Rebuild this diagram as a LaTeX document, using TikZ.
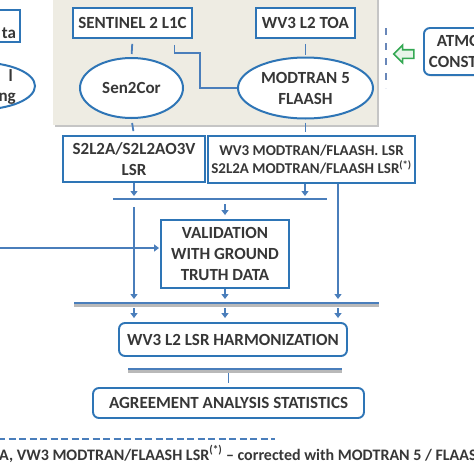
\documentclass[tikz,border=0pt]{standalone}
\usepackage{fontspec}
\setmainfont{Carlito}
\usetikzlibrary{arrows.meta,shapes.geometric,shapes.arrows,shadows}
\definecolor{boxblue}{RGB}{46,117,182}
\definecolor{linkblue}{RGB}{74,126,187}
\definecolor{panelgrey}{RGB}{238,236,227}
\definecolor{inkgrey}{RGB}{55,55,55}
\definecolor{arrgreen}{RGB}{52,168,83}
\definecolor{dashblue}{RGB}{105,135,185}
\begin{document}
\begin{tikzpicture}[x=1pt,y=-1pt,
  every node/.style={font=\fontsize{17}{21}\selectfont\bfseries, text=inkgrey},
  sqbox/.style={draw=boxblue, line width=1.9pt, fill=white, align=center, inner sep=0pt},
  rbox/.style={sqbox, rounded corners=6pt},
  ellbox/.style={ellipse, draw=boxblue, line width=2pt, fill=white, align=center, inner sep=0pt},
  link/.style={draw=linkblue, line width=1.8pt},
  arr/.style={link, -{Triangle[length=5pt,width=7pt]}},
  bar/.style={draw=linkblue, line width=2.4pt},
  barshadow/.style={draw=gray!55, line width=2.4pt}]
  \useasboundingbox (0,0) rectangle (474,474);
  \clip (0,0) rectangle (474,474);
  \fill[white] (0,0) rectangle (474,474);
  \fill[panelgrey, drop shadow={shadow xshift=1.5pt, shadow yshift=-2pt, opacity=0.45}] (53,-10) rectangle (377,125);

  \node[sqbox, anchor=east, minimum width=90pt, text height=28pt, text depth=4pt, inner xsep=4pt, text width=82pt, align=right] (gtdata) at (21,26) {ta};
  \draw[boxblue, line width=2pt, fill=white] (-20,86) ellipse (55 and 23.5);
  \node[anchor=base east, inner sep=0pt] (procl) at (13,81) {l};
  \node[anchor=base east, inner sep=0pt] (procng) at (16,101) {ng};

  \node[sqbox, minimum width=119pt, minimum height=30pt] (sent) at (132.5,23) {SENTINEL 2 L1C};
  \node[sqbox, minimum width=99pt, minimum height=30pt] (wvtoa) at (305.5,23) {WV3 L2 TOA};
  \node[ellbox, minimum width=103pt, minimum height=60pt] (sencor) at (131.5,88) {Sen2Cor};
  \node[ellbox, minimum width=135pt, minimum height=61pt] (modtran) at (305.5,88) {MODTRAN 5\\FLAASH};
  \draw[link, shorten <=5pt, shorten >=3pt] (sent.south) -- (sencor.north);
  \draw[link, shorten <=5pt, shorten >=2pt] (wvtoa.south) -- (modtran.north);
  \coordinate (kink) at (200,53);
  \draw[link, shorten <=6pt] ([xshift=42pt]sent.south) |- (kink) |- (modtran.west);

  \coordinate (dtop) at (386,28);
  \coordinate (dbot) at (386,88);
  \draw[draw=dashblue, line width=2.6pt, dash pattern=on 7pt off 8pt] (dtop) -- (dbot);
  \node[single arrow, draw=arrgreen, fill=arrgreen!12, line width=1.6pt, shape border rotate=180,
    minimum height=20pt, inner sep=3.5pt, single arrow head extend=4.5pt] (garr) at (406,54) {};
  \node[rbox, anchor=west, minimum width=120pt, minimum height=47pt, align=left, text width=110pt, inner xsep=4pt,
    drop shadow={opacity=0.25, shadow xshift=1pt, shadow yshift=-1.5pt}] (atmo) at (423,51.5) {\hspace*{8pt}ATMO\\CONST};

  \node[sqbox, minimum width=142pt, minimum height=46pt] (s2lsr) at (134,159) {S2L2A/S2L2AO3V\\LSR};
  \node[sqbox, minimum width=207pt, minimum height=47pt, font=\fontsize{15}{18}\selectfont\bfseries] (mflsr) at (311.5,159.5)
    {WV3 MODTRAN/FLAASH. LSR\\S2L2A MODTRAN/FLAASH LSR\textsuperscript{(*)}};
  \draw[link, shorten <=4pt, shorten >=4pt] (sencor.south) -- (s2lsr.north);
  \draw[link, shorten <=3pt, shorten >=3pt] (modtran.south) -- (modtran.south |- mflsr.north);

  \coordinate (b1w) at (113,199);
  \coordinate (b1e) at (327,199);
  \draw[bar] (b1w) -- (b1e);
  \draw[arr, shorten >=3pt] (s2lsr.south) -- (s2lsr.south |- b1w);
  \draw[arr, shorten >=3pt] ([xshift=-6.5pt]mflsr.south) -- ([xshift=-6.5pt]mflsr.south |- b1w);

  \node[sqbox, minimum width=128pt, minimum height=68pt] (valid) at (225,254) {VALIDATION\\WITH GROUND\\TRUTH DATA};
  \coordinate (gtin) at (-5,248);
  \draw[arr, shorten >=1pt] (gtin) -- (valid.west |- gtin);
  \draw[arr, shorten <=5pt, shorten >=4pt] (valid.north |- b1w) -- (valid.north);

  \coordinate (b2w) at (74,303);
  \coordinate (b2e) at (379,303);
  \draw[barshadow] ([yshift=-2.5pt]b2w) -- ([yshift=-2.5pt]b2e);
  \draw[bar] (b2w) -- (b2e);
  \draw[arr, shorten <=8pt, shorten >=4pt] (s2lsr.south |- b1w) -- (s2lsr.south |- b2w);
  \draw[arr, shorten >=4pt] (valid.south) -- (valid.south |- b2w);
  \draw[arr, shorten >=4pt] ([xshift=26.5pt]mflsr.south) -- ([xshift=26.5pt]mflsr.south |- b2w);

  \node[rbox, minimum width=228pt, minimum height=33pt] (harm) at (233,339.5) {WV3 L2 LSR HARMONIZATION};
  \draw[arr, shorten <=5pt, shorten >=4pt] (s2lsr.south |- b2w) -- (s2lsr.south |- harm.north);
  \draw[arr, shorten <=5pt, shorten >=4pt] (valid.south |- b2w) -- (valid.south |- harm.north);
  \draw[arr, shorten <=5pt, shorten >=4pt] ([xshift=26.5pt]mflsr.south |- b2w) -- ([xshift=26.5pt]mflsr.south |- harm.north);

  \coordinate (b3w) at (128,369);
  \coordinate (b3e) at (342,369);
  \draw[barshadow] ([yshift=-2.5pt]b3w) -- ([yshift=-2.5pt]b3e);
  \draw[bar] (b3w) -- (b3e);
  \node[rbox, minimum width=271pt, minimum height=30pt] (agree) at (228.5,403) {AGREEMENT ANALYSIS STATISTICS};
  \draw[link, shorten <=4pt, shorten >=4pt] (agree.north |- b3w) -- (agree.north);

  \coordinate (fnw) at (-2,439);
  \coordinate (fne) at (275,439);
  \draw[draw=linkblue, line width=2pt, dash pattern=on 7pt off 3.5pt] (fnw) -- (fne);
  \node[anchor=base west, inner sep=0pt, font=\fontsize{16}{19}\selectfont\bfseries] (fnote) at (-1,460)
    {A, VW3 MODTRAN/FLAASH LSR\textsuperscript{(*)} -- corrected with MODTRAN 5 / FLAAS};
\end{tikzpicture}
\end{document}
